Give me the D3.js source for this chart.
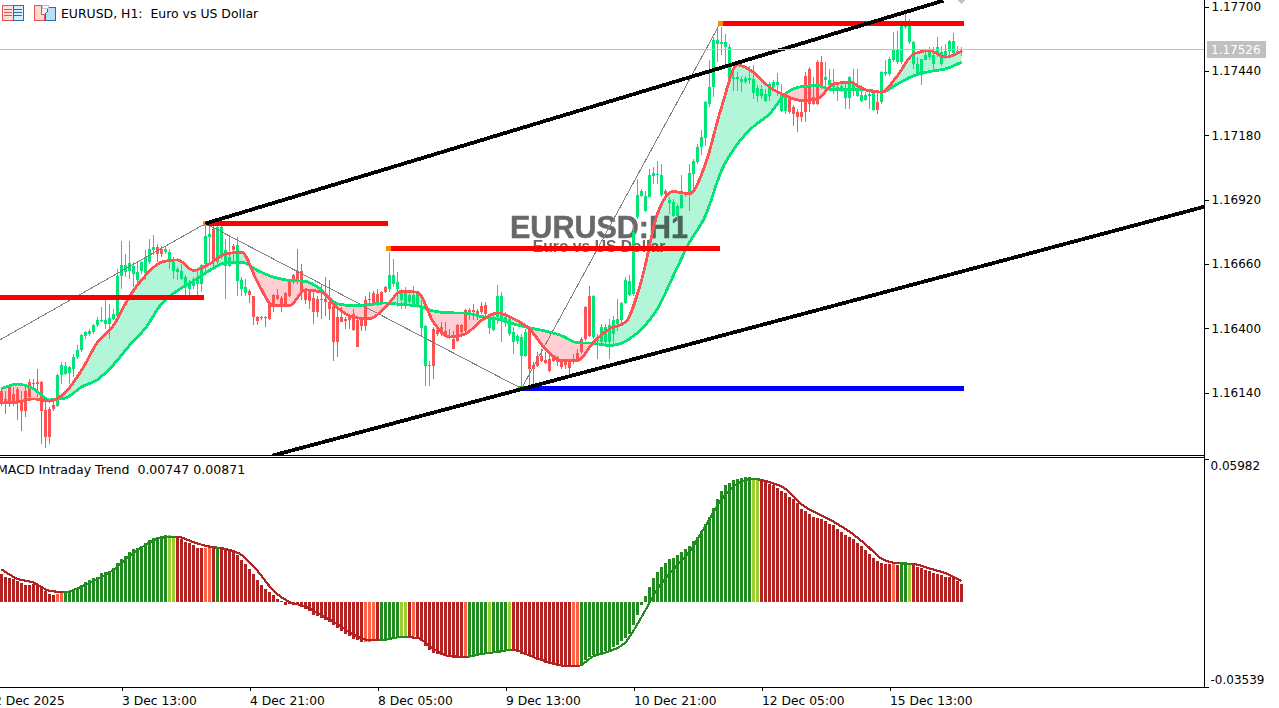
<!DOCTYPE html>
<html>
<head>
<meta charset="utf-8">
<title>EURUSD, H1</title>
<script src="https://cdn.jsdelivr.net/npm/d3@7"></script>
<style>
  html, body { margin: 0; padding: 0; background: #fff; overflow: hidden; }
  svg { display: block; }
  text { font-family: "DejaVu Sans", sans-serif; fill: #000; }
</style>
</head>
<body>
<svg id="chart" width="1279" height="708"></svg>
<script>
// prices are in points (1e-5), one entry per H1 bar
const barOpen = [
  116148,116114,116168,116135,116155,116108,116148,116182,116179,116182,
  116182,116070,116074,116090,116087,116209,116215,116218,116236,116285,
  116310,116370,116377,116384,116411,116427,116415,116415,116438,116451,
  116609,116626,116633,116620,116595,116633,116622,116667,116714,116727,
  116720,116707,116673,116633,116626,116599,116572,116559,116572,116579,
  116579,116660,116768,116801,116667,116687,116653,116653,116734,116590,
  116559,116541,116552,116532,116444,116447,116447,116502,116536,116536,
  116522,116541,116593,116613,116633,116633,116552,116552,116522,116518,
  116518,116518,116505,116491,116444,116444,116438,116444,116458,116431,
  116431,116514,116518,116541,116539,116548,116566,116559,116579,116559,
  116512,116491,116505,116491,116487,116401,116249,116248,116397,116393,
  116404,116390,116370,116357,116411,116411,116474,116474,116474,116471,
  116491,116495,116401,116393,116444,116434,116428,116377,116343,116347,
  116289,116289,116397,116253,116289,116289,116273,116276,116283,116283,
  116269,116269,116267,116276,116300,116357,116487,116528,116364,116350,
  116343,116343,116343,116377,116417,116431,116501,116536,116539,116848,
  116936,116875,116932,117013,117021,116940,116954,116906,116855,116855,
  116886,116940,116943,117024,117071,117131,117169,117306,117374,117549,
  117549,117535,117411,117406,117407,117394,117394,117401,117350,117340,
  117340,117317,117340,117374,117384,117277,117277,117333,117293,117273,
  117273,117421,117448,117333,117475,117475,117401,117384,117374,117360,
  117367,117331,117331,117371,117340,117320,117323,117340,117282,117313,
  117313,117428,117428,117484,117475,117475,117616,117556,117468,117421,
  117425,117484,117495,117468,117502,117468,117492,117522,117511,117511,
  117515];
const barClose = [
  116094,116094,116101,116094,116101,116067,116067,116121,116175,116175,
  116065,115959,115959,116074,116209,116253,116249,116242,116285,116312,
  116374,116384,116388,116411,116431,116431,116431,116442,116458,116609,
  116657,116657,116663,116653,116626,116667,116687,116720,116730,116700,
  116700,116720,116707,116667,116640,116633,116606,116579,116599,116599,
  116657,116774,116781,116667,116808,116808,116714,116687,116714,116737,
  116595,116566,116536,116444,116427,116442,116442,116438,116498,116518,
  116487,116487,116532,116586,116593,116545,116512,116508,116465,116465,
  116516,116505,116478,116343,116343,116424,116428,116431,116393,116323,
  116407,116407,116512,116498,116498,116501,116545,116613,116613,116586,
  116549,116545,116536,116536,116539,116485,116407,116253,116249,116377,
  116377,116370,116364,116316,116350,116384,116390,116458,116465,116458,
  116465,116458,116444,116444,116528,116528,116444,116438,116384,116370,
  116364,116384,116236,116236,116249,116269,116258,116226,116269,116263,
  116242,116253,116240,116267,116269,116303,116357,116370,116532,116366,
  116404,116404,116411,116434,116438,116502,116593,116590,116788,116939,
  116954,116936,117017,117026,117024,117021,116943,116916,116909,116892,
  116940,116945,117026,117075,117134,117172,117313,117376,117565,117565,
  117556,117556,117538,117414,117414,117407,117411,117411,117407,117371,
  117367,117347,117387,117394,117394,117347,117333,117273,117266,117253,
  117253,117273,117306,117306,117306,117371,117414,117403,117387,117374,
  117380,117367,117417,117387,117371,117344,117344,117347,117354,117282,
  117434,117434,117488,117529,117529,117623,117643,117627,117556,117468,
  117488,117502,117515,117502,117535,117515,117522,117560,117560,117522,
  117522];
const barHigh = [
  116162,116148,116168,116162,116162,116148,116162,116195,116195,116236,
  116188,116121,116081,116101,116215,116263,116263,116249,116296,116330,
  116377,116390,116397,116417,116444,116485,116512,116498,116478,116640,
  116754,116700,116754,116667,116667,116673,116714,116761,116778,116741,
  116734,116734,116720,116687,116646,116660,116613,116593,116606,116633,
  116660,116815,116815,116815,116815,116815,116761,116768,116741,116768,
  116606,116599,116559,116532,116451,116451,116451,116505,116539,116559,
  116532,116545,116599,116620,116720,116660,116559,116559,116552,116532,
  116579,116606,116593,116512,116485,116485,116444,116458,116478,116451,
  116444,116532,116545,116552,116559,116552,116572,116707,116680,116626,
  116559,116566,116545,116572,116545,116512,116411,116269,116404,116401,
  116424,116424,116397,116390,116417,116417,116478,116482,116498,116478,
  116505,116505,116451,116458,116576,116545,116465,116444,116404,116377,
  116377,116397,116404,116263,116303,116316,116303,116296,116289,116289,
  116276,116276,116276,116296,116316,116364,116491,116572,116536,116377,
  116417,116417,116438,116451,116518,116505,116606,116613,116822,117003,
  116963,116956,117044,117050,117077,117064,116963,116929,116923,116902,
  117017,116949,117064,117084,117145,117199,117320,117482,117576,117616,
  117616,117589,117549,117461,117434,117421,117421,117461,117465,117381,
  117381,117367,117394,117401,117430,117387,117340,117340,117300,117286,
  117313,117434,117455,117414,117482,117498,117475,117448,117448,117387,
  117394,117394,117421,117448,117448,117381,117354,117360,117360,117354,
  117441,117482,117495,117596,117603,117643,117684,117650,117562,117495,
  117488,117529,117535,117535,117576,117542,117549,117565,117592,117542,
  117535];
const barLow = [
  116087,116054,116081,116087,116027,115986,116040,116114,116162,116121,
  115933,115916,115930,116067,116083,116175,116209,116175,116202,116276,
  116303,116357,116370,116377,116404,116424,116397,116357,116431,116444,
  116559,116606,116599,116566,116566,116620,116593,116660,116694,116667,
  116687,116700,116640,116599,116593,116593,116532,116532,116559,116532,
  116545,116613,116660,116653,116660,116680,116518,116646,116667,116532,
  116532,116532,116501,116411,116411,116431,116404,116434,116465,116512,
  116465,116485,116525,116579,116579,116512,116498,116478,116417,116444,
  116438,116451,116431,116269,116283,116424,116397,116397,116390,116323,
  116390,116390,116498,116491,116491,116498,116541,116545,116566,116485,
  116478,116478,116498,116485,116482,116370,116168,116166,116195,116370,
  116370,116364,116357,116316,116343,116364,116377,116431,116431,116431,
  116458,116438,116377,116390,116417,116343,116404,116370,116296,116337,
  116162,116283,116168,116175,116242,116263,116256,116222,116263,116249,
  116236,116236,116215,116256,116263,116296,116350,116364,116357,116276,
  116330,116323,116276,116330,116390,116417,116498,116532,116532,116842,
  116929,116869,116929,116983,116983,116929,116916,116862,116848,116835,
  116882,116929,116875,116963,117064,117098,117138,117293,117333,117475,
  117502,117468,117407,117360,117360,117354,117387,117387,117327,117313,
  117327,117313,117320,117367,117340,117273,117266,117266,117219,117192,
  117232,117232,117273,117300,117300,117367,117371,117360,117347,117320,
  117354,117286,117286,117340,117333,117313,117320,117286,117279,117266,
  117306,117421,117421,117475,117468,117468,117609,117549,117448,117421,
  117381,117482,117484,117434,117495,117461,117488,117502,117502,117502,
  117498];

// the two averages and the signal line are read every 4th bar
const sampleStep = 4;
const maFast = [
  116097,116101,116114,116105,116141,116229,116343,116411,116528,116613,
  116667,116676,116633,116660,116700,116707,116586,116491,116491,116555,
  116545,116482,116444,116438,116485,116549,116545,116424,116364,116377,
  116431,116462,116438,116397,116316,116269,116269,116343,116397,116424,
  116593,116862,116952,116943,117064,117293,117464,117434,117374,117340,
  117320,117327,117387,117394,117363,117354,117421,117508,117522,117495,
  117519];
const maSlow = [
  116155,116174,116155,116110,116118,116162,116192,116253,116330,116401,
  116498,116552,116590,116633,116664,116667,116633,116606,116593,116589,
  116555,116498,116491,116495,116502,116495,116491,116469,116462,116461,
  116447,116436,116417,116401,116388,116370,116341,116339,116330,116347,
  116397,116478,116613,116747,116855,117037,117145,117215,117266,117347,
  117376,117380,117363,117363,117363,117354,117387,117420,117437,117448,
  117475];

// MACD values are in 1e-5
const macdHist = [
  1165,1054,985,957,874,791,707,707,735,680,
  596,458,333,291,319,347,402,430,458,569,
  680,818,902,985,1054,1193,1234,1304,1429,1609,
  1775,1928,2094,2205,2261,2344,2441,2566,2649,2705,
  2746,2788,2788,2719,2719,2621,2510,2441,2372,2261,
  2233,2261,2261,2302,2302,2233,2164,2122,2067,1956,
  1748,1567,1373,1151,915,707,541,402,264,125,
  28,-125,-111,-153,-153,-236,-291,-374,-569,-596,
  -680,-749,-860,-971,-1110,-1234,-1345,-1442,-1553,-1581,
  -1664,-1692,-1692,-1651,-1623,-1609,-1581,-1553,-1553,-1512,
  -1484,-1442,-1442,-1442,-1512,-1651,-1859,-2025,-2136,-2164,
  -2205,-2247,-2275,-2344,-2358,-2330,-2275,-2247,-2205,-2178,
  -2136,-2136,-2108,-2108,-2081,-2067,-1997,-1970,-2025,-2108,
  -2178,-2205,-2247,-2344,-2413,-2483,-2552,-2580,-2621,-2663,
  -2691,-2732,-2732,-2719,-2691,-2663,-2441,-2302,-2205,-2164,
  -2136,-2067,-1997,-1886,-1789,-1651,-1512,-1345,-985,-541,
  -153,222,596,971,1262,1470,1637,1775,1845,1970,
  2094,2191,2330,2524,2719,2940,3232,3523,3925,4300,
  4605,4855,4965,5076,5132,5174,5215,5215,5174,5146,
  5076,4993,4938,4855,4757,4619,4522,4383,4300,4133,
  3856,3787,3648,3551,3509,3440,3370,3232,3190,3051,
  2913,2774,2705,2608,2469,2330,2164,1983,1845,1706,
  1609,1581,1567,1567,1540,1609,1678,1609,1526,1470,
  1429,1332,1290,1221,1151,1110,1054,1013,971,874,
  747];
const macdSignal = [
  1359,957,804,458,402,638,957,1332,1914,2372,
  2677,2719,2483,2302,2205,1956,1290,458,-14,-194,
  -569,-929,-1373,-1609,-1581,-1470,-1512,-1970,-2275,-2302,
  -2178,-2094,-1997,-2247,-2483,-2663,-2691,-2275,-2067,-1692,
  -638,527,1359,2094,3162,4272,4938,5132,4993,4716,
  4064,3689,3343,2927,2400,1803,1609,1581,1387,1193,
  871];
// [first bar, last bar, state]
const macdRuns = [
  [0,13,"fall"],[14,15,"ease"],[16,41,"rise"],[42,43,"peak"],[44,50,"fall"],[51,52,"ease"],
  [53,53,"fall"],[54,54,"rise"],[55,90,"fall"],[91,93,"ease"],[94,94,"fall"],[95,99,"rise"],
  [100,101,"peak"],[102,102,"fall"],[103,103,"ease"],[104,115,"fall"],[116,116,"ease"],
  [117,121,"rise"],[122,122,"peak"],[123,126,"rise"],[127,127,"peak"],[128,142,"fall"],
  [143,144,"ease"],[145,187,"rise"],[188,189,"peak"],[190,222,"fall"],[223,223,"ease"],
  [224,224,"fall"],[225,226,"rise"],[227,227,"peak"],[228,240,"fall"]];

// objects drawn on the chart, anchored by bar number and price
const zigzagBars = [-0.25, 51, 130, 179.75];
const zigzagPrices = [116354, 116823, 116156, 117635];
const channelUpperBars = [51, 235.5];
const channelUpperPrices = [116823, 117724];
const channelLowerBars = [67.75, 300.75];
const channelLowerPrices = [115885, 116891];
const resistanceFrom = [-1, 51, 96.75, 179.75];
const resistanceTo = [50.5, 96.5, 179.5, 240.5];
const resistancePrices = [116522, 116823, 116721, 117630];
const supportFrom = [130];
const supportTo = [240.5];
const supportPrices = [116155];
const pivotBars = [51, 96.75, 179.75];
const pivotPrices = [116823, 116721, 117630];

const priceTicks = [1.177, 1.1744, 1.1718, 1.1692, 1.1666, 1.164, 1.1614];
const lastPrice = 1.17526;
const macdTicks = [0.05982, -0.03539];
const timeBars = [-2, 30, 62, 94, 126, 158, 190, 222];
const timeLabels = ["2 Dec 2025", "3 Dec 13:00", "4 Dec 21:00", "8 Dec 05:00", "9 Dec 13:00", "10 Dec 21:00", "12 Dec 05:00", "15 Dec 13:00"];

const bull = "#00e676", bear = "#ff5252";
const histColors = { fall: "#b22222", ease: "#ff6347", rise: "#228b22", peak: "#9acd32" };

const axisX = 1204.5, mainBottom = 455, subTop = 458, subBottom = 687;
const svg = d3.select("#chart").attr("shape-rendering", "crispEdges");

const x = d3.scaleLinear().domain([0, 240]).range([1.5, 961.5]);
const y = d3.scaleLinear().domain([1.1614, 1.177]).range([392.5, 6.5]);
const yMacd = d3.scaleLinear().domain([-0.03539, 0.05982]).range([subBottom - 0.5, subTop + 0.5]);
const px = p => y(p / 1e5);
const sampleBars = d3.range(maFast.length).map(i => i * sampleStep);

const defs = svg.append("defs");
defs.append("clipPath").attr("id", "main-clip").append("rect")
  .attr("width", axisX).attr("height", mainBottom);
defs.append("clipPath").attr("id", "above-slow").append("path")
  .attr("d", d3.area().x(d => x(d)).y0(0).y1(d => px(maSlow[d / sampleStep])).curve(d3.curveMonotoneX)(sampleBars));
defs.append("clipPath").attr("id", "below-slow").append("path")
  .attr("d", d3.area().x(d => x(d)).y0(mainBottom).y1(d => px(maSlow[d / sampleStep])).curve(d3.curveMonotoneX)(sampleBars));

const main = svg.append("g").attr("clip-path", "url(#main-clip)");

// band between the two averages
const band = d3.area().x(d => x(d))
  .y0(d => px(maSlow[d / sampleStep]))
  .y1(d => px(maFast[d / sampleStep]))
  .curve(d3.curveMonotoneX);
main.append("path").attr("d", band(sampleBars)).attr("fill", "#b2f5d9").attr("clip-path", "url(#above-slow)");
main.append("path").attr("d", band(sampleBars)).attr("fill", "#ffcdd2").attr("clip-path", "url(#below-slow)");

// big symbol watermark
main.append("text").attr("x", 599).attr("y", 238).attr("text-anchor", "middle")
  .style("font-family", "'Liberation Sans', sans-serif").style("font-weight", "bold").style("font-size", "30.5px")
  .style("fill", "#696969").style("stroke", "#696969").style("stroke-width", "0.5px").style("mix-blend-mode", "multiply")
  .text("EURUSD:H1");
main.append("text").attr("x", 599).attr("y", 252).attr("text-anchor", "middle")
  .style("font-family", "'Liberation Sans', sans-serif").style("font-weight", "bold").style("font-size", "15.7px")
  .style("fill", "#696969").style("mix-blend-mode", "multiply")
  .text("Euro vs US Dollar");

// candles
const bars = d3.range(barOpen.length);
main.append("g").selectAll("rect").data(bars).join("rect")
  .attr("x", d => x(d) - 0.5).attr("width", 1)
  .attr("y", d => px(barHigh[d]))
  .attr("height", d => Math.max(1, px(barLow[d]) - px(barHigh[d])))
  .attr("fill", d => barClose[d] >= barOpen[d] ? bull : bear);
main.append("g").selectAll("rect").data(bars).join("rect")
  .attr("x", d => x(d) - 1.5).attr("width", 3)
  .attr("y", d => px(Math.max(barOpen[d], barClose[d])))
  .attr("height", d => Math.max(1, Math.abs(px(barOpen[d]) - px(barClose[d]))))
  .attr("fill", d => barClose[d] >= barOpen[d] ? bull : bear);

// zigzag
main.append("path")
  .attr("d", d3.line().x(d => x(d)).y((d, i) => px(zigzagPrices[i]))(zigzagBars))
  .attr("fill", "none").attr("stroke", "#808080").attr("stroke-width", 1);

// averages
const maLine = values => d3.line().x(d => x(d)).y(d => px(values[d / sampleStep])).curve(d3.curveMonotoneX)(sampleBars);
main.append("path").attr("d", maLine(maSlow)).attr("fill", "none").attr("stroke", bull).attr("stroke-width", 2.8);
main.append("path").attr("d", maLine(maFast)).attr("fill", "none").attr("stroke", bear).attr("stroke-width", 2.8);

// last price line
svg.append("line").attr("x1", 0).attr("x2", axisX).attr("y1", y(lastPrice)).attr("y2", y(lastPrice))
  .attr("stroke", "#c0c0c0");

// horizontal levels
main.append("g").selectAll("line").data(resistancePrices).join("line")
  .attr("x1", (d, i) => x(resistanceFrom[i])).attr("x2", (d, i) => x(resistanceTo[i]))
  .attr("y1", d => px(d)).attr("y2", d => px(d))
  .attr("stroke", "#ff0000").attr("stroke-width", 5);
main.append("g").selectAll("line").data(supportPrices).join("line")
  .attr("x1", (d, i) => x(supportFrom[i])).attr("x2", (d, i) => x(supportTo[i]))
  .attr("y1", d => px(d)).attr("y2", d => px(d))
  .attr("stroke", "#0000ff").attr("stroke-width", 5);
main.append("g").selectAll("rect").data(pivotPrices).join("rect")
  .attr("x", (d, i) => x(pivotBars[i]) - 2.5).attr("y", d => px(d) - 2.5)
  .attr("width", 5).attr("height", 5).attr("fill", "#ff8c00");
main.append("rect").attr("x", x(130) - 2.5).attr("y", px(supportPrices[0]) - 2.5)
  .attr("width", 5).attr("height", 5).attr("fill", "#00c000");

// channel
const channel = (bs, ps) => d3.line().x(d => x(d)).y((d, i) => px(ps[i]))(bs);
main.append("path").attr("d", channel(channelUpperBars, channelUpperPrices)).attr("fill", "none").attr("stroke", "#000").attr("stroke-width", 3.8);
main.append("path").attr("d", channel(channelLowerBars, channelLowerPrices)).attr("fill", "none").attr("stroke", "#000").attr("stroke-width", 3.8);

// chart shift marker
main.append("path").attr("d", d3.symbol(d3.symbolSquare, 50)()).attr("transform", `translate(${x(240)},-1) rotate(45)`).attr("fill", "#c0c0c0");

// MACD panel
const histState = macdRuns.flatMap(r => d3.range(r[0], r[1] + 1).map(() => r[2]));
const yZero = yMacd(0);
svg.append("g").selectAll("rect").data(macdHist).join("rect")
  .attr("x", (d, i) => x(i) - 1.5).attr("width", 3)
  .attr("y", d => Math.min(yZero, yMacd(d / 1e5)))
  .attr("height", d => Math.max(1, Math.abs(yMacd(d / 1e5) - yZero)))
  .attr("fill", (d, i) => histColors[histState[i]]);

const upRuns = macdRuns.filter(r => r[2] == "rise" || r[2] == "peak");
defs.append("clipPath").attr("id", "up-runs").selectAll("rect").data(upRuns).join("rect")
  .attr("x", r => x(r[0]) - 2).attr("width", r => x(r[1]) - x(r[0]) + 4)
  .attr("y", subTop).attr("height", subBottom - subTop);
const signalPath = d3.line().x(d => x(d)).y(d => yMacd(macdSignal[d / sampleStep] / 1e5)).curve(d3.curveMonotoneX)(sampleBars);
svg.append("path").attr("d", signalPath).attr("fill", "none").attr("stroke", histColors.fall).attr("stroke-width", 2.2);
svg.append("path").attr("d", signalPath).attr("fill", "none").attr("stroke", histColors.rise).attr("stroke-width", 2.2)
  .attr("clip-path", "url(#up-runs)");

// frame
const frame = svg.append("g").attr("stroke", "#000");
frame.append("line").attr("x1", axisX).attr("x2", axisX).attr("y1", 0).attr("y2", subBottom);
frame.append("line").attr("x1", 0).attr("x2", axisX).attr("y1", mainBottom + 0.5).attr("y2", mainBottom + 0.5);
frame.append("line").attr("x1", 0).attr("x2", axisX).attr("y1", subTop - 0.5).attr("y2", subTop - 0.5);
frame.append("line").attr("x1", 0).attr("x2", axisX).attr("y1", subBottom + 0.5).attr("y2", subBottom + 0.5);

// axes
const styleAxis = g => {
  g.select(".domain").remove();
  g.selectAll(".tick line").attr("stroke", "#000");
  g.selectAll(".tick text").style("font-size", "12px").attr("fill", "#000");
};
svg.append("g").attr("transform", `translate(${axisX},0)`)
  .call(d3.axisRight(y).tickValues(priceTicks).tickSize(4).tickPadding(3).tickFormat(d => d.toFixed(5)))
  .call(styleAxis);
svg.append("g").attr("transform", `translate(${axisX},0)`)
  .call(d3.axisRight(yMacd).tickValues(macdTicks).tickSize(4).tickPadding(2).tickFormat(d => d.toFixed(5)))
  .call(styleAxis)
  .call(g => g.selectAll(".tick text").attr("dy", d => d > 0 ? "0.95em" : "-0.25em"));
svg.append("g").attr("transform", `translate(0,${subBottom})`)
  .call(d3.axisBottom(x).tickValues(timeBars).tickSize(4).tickPadding(5).tickFormat((d, i) => timeLabels[i]))
  .call(styleAxis)
  .call(g => g.selectAll(".tick text").attr("text-anchor", "start").style("font-size", "12.3px"));

// last price tag
svg.append("rect").attr("x", 1207).attr("y", y(lastPrice) - 8.5).attr("width", 59).attr("height", 17).attr("fill", "#c0c0c0");
svg.append("text").attr("x", 1211).attr("y", y(lastPrice) + 4.5).style("font-size", "12px").style("fill", "#fff")
  .text(d3.format(".5f")(lastPrice));

// headers
svg.append("text").attr("x", 61).attr("y", 17.5).style("font-size", "12.45px")
  .style("white-space", "pre").text("EURUSD, H1:  Euro vs US Dollar");
svg.append("text").attr("x", -3).attr("y", 474).style("font-size", "12.55px")
  .style("white-space", "pre").text("MACD Intraday Trend  0.00747 0.00871");

// toolbar icons
const icons = svg.append("g");
icons.append("rect").attr("x", 2).attr("y", 5).attr("width", 11).attr("height", 15).attr("fill", "#fde3e0").attr("stroke", "#e8504a");
icons.append("rect").attr("x", 13).attr("y", 5).attr("width", 10).attr("height", 15).attr("fill", "#dceefb").attr("stroke", "#1f6fb2");
[9, 12, 15].forEach(v => {
  icons.append("line").attr("x1", 4).attr("x2", 12).attr("y1", v).attr("y2", v).attr("stroke", "#e8504a");
  icons.append("line").attr("x1", 14).attr("x2", 22).attr("y1", v).attr("y2", v).attr("stroke", "#1f6fb2");
});
icons.append("path").attr("d", "M34 5H41V14H44V20H34Z").attr("fill", "#ffd9cf").attr("stroke", "#e8504a");
icons.append("path").attr("d", "M47 12V7H55V20H45V14Z").attr("fill", "#b9defa").attr("stroke", "#1f6fb2");
icons.append("rect").attr("x", 42).attr("y", 5).attr("width", 6).attr("height", 3).attr("fill", "#fff").attr("stroke", "#c0c0c0");
</script>
</body>
</html>
